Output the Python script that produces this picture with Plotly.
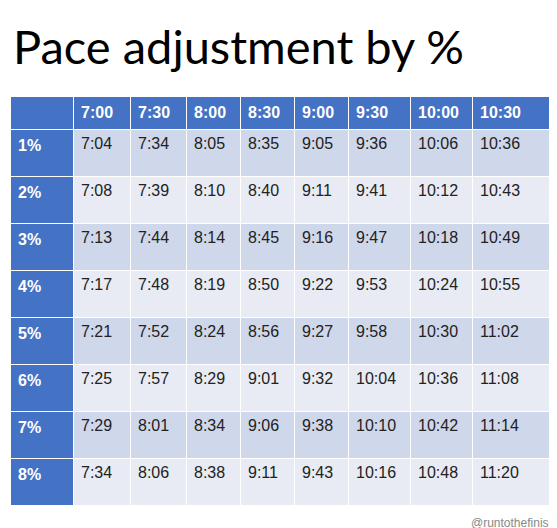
import plotly.graph_objects as go

header = ["", "7:00", "7:30", "8:00", "8:30", "9:00", "9:30", "10:00", "10:30"]
pcts = ["1%", "2%", "3%", "4%", "5%", "6%", "7%", "8%"]
c700 = ["7:04", "7:08", "7:13", "7:17", "7:21", "7:25", "7:29", "7:34"]
c730 = ["7:34", "7:39", "7:44", "7:48", "7:52", "7:57", "8:01", "8:06"]
c800 = ["8:05", "8:10", "8:14", "8:19", "8:24", "8:29", "8:34", "8:38"]
c830 = ["8:35", "8:40", "8:45", "8:50", "8:56", "9:01", "9:06", "9:11"]
c900 = ["9:05", "9:11", "9:16", "9:22", "9:27", "9:32", "9:38", "9:43"]
c930 = ["9:36", "9:41", "9:47", "9:53", "9:58", "10:04", "10:10", "10:16"]
c1000 = ["10:06", "10:12", "10:18", "10:24", "10:30", "10:36", "10:42", "10:48"]
c1030 = ["10:36", "10:43", "10:49", "10:55", "11:02", "11:08", "11:14", "11:20"]

blue = "#4472C4"
rowfill = ["#CFD7EA" if i % 2 == 0 else "#E8EBF3" for i in range(len(pcts))]
body_cols = [c700, c730, c800, c830, c900, c930, c1000, c1030]

fig = go.Figure(go.Table(
    domain=dict(x=[2/557, 548/557], y=[0, 1 - 88/528]),
    columnwidth=[63, 57, 56, 54, 54, 54, 62, 62, 84],
    header=dict(values=[f"<b>{h}</b>" for h in header], fill_color=blue,
                font=dict(color="white", size=16, family="Liberation Sans"),
                align="left", height=27, line=dict(color="white", width=1)),
    cells=dict(values=[[f"<b>{p}</b>" for p in pcts]] + body_cols,
               fill_color=[[blue]*len(pcts)] + [rowfill]*8,
               font=dict(color=[["white"]*len(pcts)] + [["#222222"]*len(pcts)]*8,
                         size=16, family="Liberation Sans"),
               align="left", height=47, line=dict(color="white", width=1)),
))
fig.add_annotation(text="Pace adjustment by %", x=0.005, y=1 - 8/528, xref="paper", yref="paper",
                   xanchor="left", yanchor="top", showarrow=False,
                   font=dict(size=47, color="black", family="Lato"))
fig.add_annotation(text="@runtothefinish", x=0.985, y=4/528, xref="paper", yref="paper",
                   xanchor="right", yanchor="bottom", showarrow=False,
                   font=dict(size=12, color="#888888", family="Liberation Sans"))
fig.update_layout(width=557, height=528, margin=dict(l=0, r=0, t=0, b=0),
                  paper_bgcolor="white")
fig.write_html("out.html")
